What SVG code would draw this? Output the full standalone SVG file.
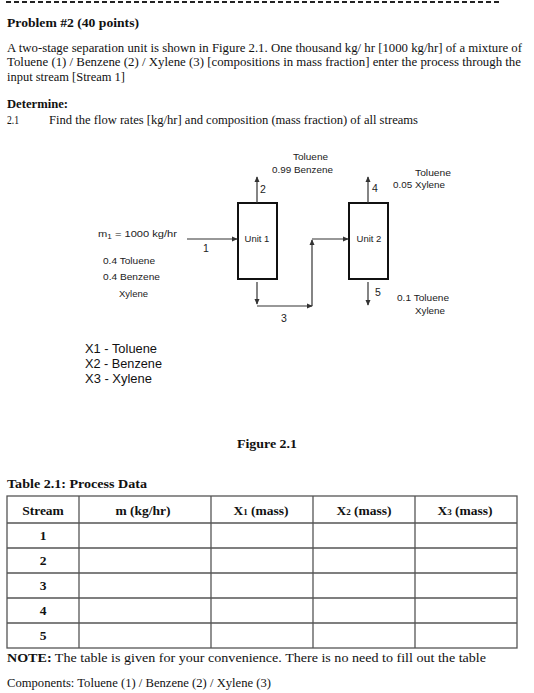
<svg xmlns="http://www.w3.org/2000/svg" width="534" height="693" viewBox="0 0 534 693">
<style>
.t{font-family:"Liberation Serif","Times New Roman",serif;font-size:13.5px;fill:#111}
.b{font-weight:bold}
.s{font-family:"Liberation Sans",Arial,sans-serif;font-size:9.5px;fill:#222}
.n{font-family:"Liberation Sans",Arial,sans-serif;font-size:10.5px;fill:#222;text-anchor:middle}
.x{font-family:"Liberation Sans",Arial,sans-serif;font-size:13.5px;fill:#111}
.unit{fill:#fff;stroke:#111;stroke-width:2}
.c{fill:none;stroke:#333;stroke-width:1.2}
.g{stroke:#555;stroke-width:1.3;fill:none}
.th{font-family:"Liberation Serif","Times New Roman",serif;font-size:13.5px;font-weight:bold;fill:#111;text-anchor:middle}
</style>
<defs>
<marker id="ah" viewBox="0 0 8 8" refX="7" refY="4" markerWidth="5" markerHeight="5" orient="auto">
<path d="M0,0.5 L8,4 L0,7.5 Z" fill="#333"/>
</marker>
</defs>
<rect width="534" height="693" fill="#fff"/>
<line x1="6" y1="2" x2="500" y2="2" stroke="#222" stroke-width="2" stroke-dasharray="5,3"/>

<g id="header">
<text class="t b" x="7" y="27" textLength="132" lengthAdjust="spacingAndGlyphs">Problem #2 (40 points)</text>
<text class="t" x="7" y="52" style="font-size:12.8px" textLength="515" lengthAdjust="spacingAndGlyphs">A two-stage separation unit is shown in Figure 2.1. One thousand kg/ hr [1000 kg/hr] of a mixture of</text>
<text class="t" x="7" y="66" style="font-size:12.8px" textLength="514" lengthAdjust="spacingAndGlyphs">Toluene (1) / Benzene (2) / Xylene (3) [compositions in mass fraction] enter the process through the</text>
<text class="t" x="7" y="81" textLength="118" lengthAdjust="spacingAndGlyphs">input stream [Stream 1]</text>
<text class="t b" x="7" y="108" textLength="61" lengthAdjust="spacingAndGlyphs">Determine:</text>
<text class="t" x="7" y="124" textLength="12" lengthAdjust="spacingAndGlyphs">2.1</text>
<text class="t" x="49" y="124" textLength="369" lengthAdjust="spacingAndGlyphs">Find the flow rates [kg/hr] and composition (mass fraction) of all streams</text>
</g>

<g id="unit1">
<rect class="unit" x="238" y="203" width="39" height="76"/>
<text class="s" x="257" y="242" text-anchor="middle">Unit 1</text>
</g>
<g id="unit2">
<rect class="unit" x="349" y="203" width="39" height="76"/>
<text class="s" x="369" y="242" text-anchor="middle">Unit 2</text>
</g>

<g id="connectors">
<line class="c" x1="187" y1="239" x2="237" y2="239" marker-end="url(#ah)"/>
<line class="c" x1="257" y1="203" x2="257" y2="177" marker-end="url(#ah)"/>
<line class="c" x1="257" y1="282" x2="257" y2="304" marker-end="url(#ah)"/>
<line class="c" x1="257" y1="306" x2="312" y2="306" marker-end="url(#ah)"/>
<line class="c" x1="312" y1="306" x2="312" y2="240" marker-end="url(#ah)"/>
<line class="c" x1="312" y1="239" x2="348" y2="239" marker-end="url(#ah)"/>
<line class="c" x1="368" y1="203" x2="368" y2="177" marker-end="url(#ah)"/>
<line class="c" x1="368" y1="282" x2="368" y2="305" marker-end="url(#ah)"/>
</g>

<g id="stream-labels">
<text class="n" x="206" y="252">1</text>
<text class="n" x="263" y="193">2</text>
<text class="n" x="284" y="322">3</text>
<text class="n" x="375" y="192">4</text>
<text class="n" x="378" y="296">5</text>
</g>

<g id="feed">
<text class="s" x="98" y="237" textLength="79" lengthAdjust="spacingAndGlyphs">m<tspan font-size="7" dy="2">1</tspan><tspan dy="-2">  =  1000 kg/hr</tspan></text>
<text class="s" x="103" y="264" textLength="52" lengthAdjust="spacingAndGlyphs">0.4 Toluene</text>
<text class="s" x="103" y="280" textLength="57" lengthAdjust="spacingAndGlyphs">0.4 Benzene</text>
<text class="s" x="119" y="297" textLength="29" lengthAdjust="spacingAndGlyphs">Xylene</text>
</g>
<g id="top-product">
<text class="s" x="293" y="160" textLength="35" lengthAdjust="spacingAndGlyphs">Toluene</text>
<text class="s" x="272" y="173" textLength="61" lengthAdjust="spacingAndGlyphs">0.99 Benzene</text>
</g>
<g id="s4-product">
<text class="s" x="415" y="176" textLength="36" lengthAdjust="spacingAndGlyphs">Toluene</text>
<text class="s" x="393" y="188" textLength="52" lengthAdjust="spacingAndGlyphs">0.05 Xylene</text>
</g>
<g id="s5-product">
<text class="s" x="397" y="301" textLength="52" lengthAdjust="spacingAndGlyphs">0.1 Toluene</text>
<text class="s" x="415" y="314" textLength="30" lengthAdjust="spacingAndGlyphs">Xylene</text>
</g>

<g id="legend">
<text class="x" x="85" y="353" textLength="72" lengthAdjust="spacingAndGlyphs">X1 - Toluene</text>
<text class="x" x="85" y="368" textLength="77" lengthAdjust="spacingAndGlyphs">X2 - Benzene</text>
<text class="x" x="85" y="383" textLength="67" lengthAdjust="spacingAndGlyphs">X3 - Xylene</text>
</g>

<text class="t b" x="237" y="448" textLength="60" lengthAdjust="spacingAndGlyphs">Figure 2.1</text>

<g id="table">
<text class="t b" x="7" y="488" textLength="140" lengthAdjust="spacingAndGlyphs">Table 2.1: Process Data</text>
<rect class="g" x="7" y="496" width="510" height="152"/>
<line class="g" x1="7" y1="523" x2="517" y2="523"/>
<line class="g" x1="7" y1="548" x2="517" y2="548"/>
<line class="g" x1="7" y1="573" x2="517" y2="573"/>
<line class="g" x1="7" y1="598" x2="517" y2="598"/>
<line class="g" x1="7" y1="623" x2="517" y2="623"/>
<line class="g" x1="79" y1="496" x2="79" y2="648"/>
<line class="g" x1="211" y1="496" x2="211" y2="648"/>
<line class="g" x1="313" y1="496" x2="313" y2="648"/>
<line class="g" x1="415" y1="496" x2="415" y2="648"/>
<text class="th" x="43" y="515">Stream</text>
<text class="th" x="143" y="515">m (kg/hr)</text>
<text class="th" x="261" y="515">X<tspan font-size="9">1</tspan> (mass)</text>
<text class="th" x="364" y="515">X<tspan font-size="9">2</tspan> (mass)</text>
<text class="th" x="465" y="515">X<tspan font-size="9">3</tspan> (mass)</text>
<text class="th" x="43" y="540">1</text>
<text class="th" x="43" y="565">2</text>
<text class="th" x="43" y="590">3</text>
<text class="th" x="43" y="615">4</text>
<text class="th" x="43" y="640">5</text>
</g>

<g id="notes">
<text class="t" x="7" y="662" textLength="479" lengthAdjust="spacingAndGlyphs"><tspan font-weight="bold">NOTE:</tspan> The table is given for your convenience. There is no need to fill out the table</text>
<text class="t" x="7" y="687" style="font-size:12px" textLength="264" lengthAdjust="spacingAndGlyphs">Components: Toluene (1) / Benzene (2) / Xylene (3)</text>
</g>
</svg>
